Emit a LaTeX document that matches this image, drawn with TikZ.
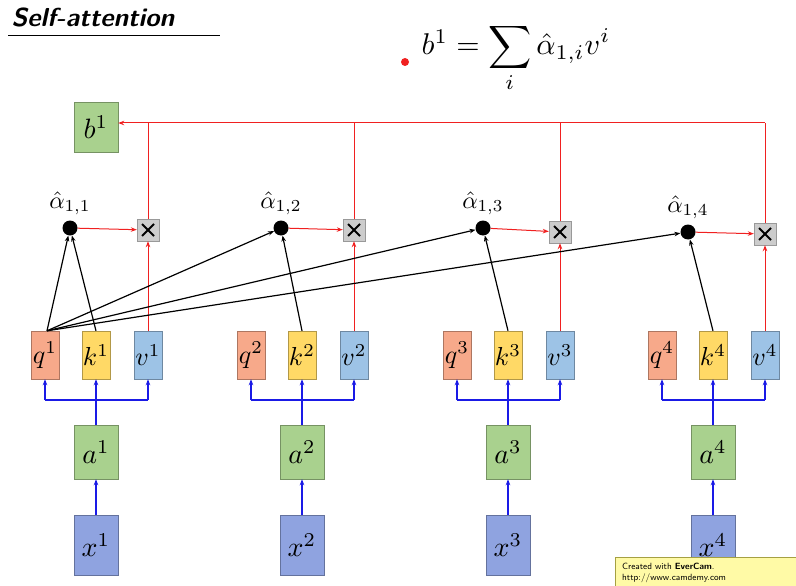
\documentclass[tikz,border=0pt]{standalone}
\usepackage{amsmath}
\usepackage{graphicx}
\usepackage{fontspec}
\usetikzlibrary{arrows.meta}
\definecolor{qc}{HTML}{F7A98A}\definecolor{kc}{HTML}{FFD966}\definecolor{vc}{HTML}{9DC3E6}
\definecolor{ac}{HTML}{A9D18E}\definecolor{xc}{HTML}{8FA3E0}\definecolor{bl}{HTML}{1A1AE6}
\definecolor{rd}{HTML}{F02020}
\newcommand{\sbx}[2]{\scalebox{#1}{$#2$}}
\begin{document}
\begin{tikzpicture}[x=1pt,y=-1pt,
  vec/.style={draw=#1!70!black,fill=#1,minimum width=28pt,minimum height=48pt,inner sep=0pt},
  big/.style={draw=#1!70!black,fill=#1,minimum width=44pt,minimum height=54pt,inner sep=0pt},
  mul/.style={draw=gray!80,fill=gray!40,minimum size=22pt,inner sep=0pt},
  dot/.style={circle,fill=black,minimum size=15pt,inner sep=0pt},
  ba/.style={bl,line width=1.2pt,-{Stealth[length=6pt]}},
  bb/.style={bl,line width=1.2pt},
  ra/.style={rd,line width=1pt,-{Stealth[length=6pt]}},
  rl/.style={rd,line width=1pt},
  ka/.style={black,line width=1.2pt,-{Stealth[length=6pt]}}]
\useasboundingbox (0,0) rectangle (796,586);
\node[anchor=west,font=\fontsize{26}{28}\selectfont\sffamily\bfseries\itshape] (t) at (8,17) {Self-attention};
\draw[line width=0.8pt] (8,35) -- (220,35);
\node[inner sep=0pt] (f) at (516,58) {\scalebox{3.0}{$b^1=\displaystyle\sum_i \hat{\alpha}_{1,i}v^i$}};
\fill[rd] (405,62) circle (4pt);
\node[big=ac,minimum height=50pt] (b) at (96,127) {\sbx{2.8}{b^1}};
\foreach \i/\dx/\my in {1/0/230,2/206/230,3/412/232,4/617/234}{
  \node[vec=qc] (q\i) at (45+\dx,355) {\sbx{2.6}{q^{\i}}};
  \node[vec=kc] (k\i) at (96+\dx,355) {\sbx{2.6}{k^{\i}}};
  \node[vec=vc] (v\i) at (148+\dx,355) {\sbx{2.6}{v^{\i}}};
  \node[big=ac] (a\i) at (96+\dx,452) {\sbx{2.8}{a^{\i}}};
  \node[big=xc,minimum height=60pt] (x\i) at (96+\dx,545) {\sbx{2.8}{x^{\i}}};
  \node[mul] (m\i) at (148+\dx,\my) {};
  \draw[line width=2pt] ([shift={(-6,-6)}]m\i.center) -- ([shift={(6,6)}]m\i.center)
                        ([shift={(-6,6)}]m\i.center) -- ([shift={(6,-6)}]m\i.center);
  \coordinate (j\i) at (96+\dx,400);
  \coordinate (u\i) at (148+\dx,123);
  \draw[ba] (x\i) -- (a\i);
  \draw[bb] (a\i.north) -- (j\i);
  \draw[bb] (q\i.south |- j\i) -- (v\i.south |- j\i);
  \draw[ba] (q\i.south |- j\i) -- (q\i.south);
  \draw[ba] (j\i) -- (k\i.south);
  \draw[ba] (v\i.south |- j\i) -- (v\i.south);
  \draw[ra] (v\i.north) -- (m\i.south);
  \draw[rl] (m\i.north) -- (u\i);
}
\node[dot] (d1) at (70,228) {};
\node[dot] (d2) at (281,228) {};
\node[dot] (d3) at (483,228) {};
\node[dot] (d4) at (688,232) {};
\foreach \i in {1,...,4}{
  \node[anchor=south,inner sep=1pt] (l\i) at ([yshift=4pt]d\i.north) {\sbx{2.4}{\hat{\alpha}_{1,\i}}};
  \draw[ra] (d\i) -- (m\i);
  \draw[ka] (k\i.north) -- (d\i);
  \draw[ka] ([xshift=2pt]q1.north) -- (d\i);
}
\draw[rl] (u4) -- (u1);
\draw[ra] (u1) -- (b.east |- u1);
\node[draw=yellow!60!black,fill=yellow!35,anchor=north west,minimum width=185pt,minimum height=30pt] (w) at (615,557) {};
\node[anchor=north west,font=\sffamily\small,align=left,inner sep=0pt] (wt) at (622,563) {Created with \textbf{EverCam}.\\http://www.camdemy.com};
\end{tikzpicture}
\end{document}
